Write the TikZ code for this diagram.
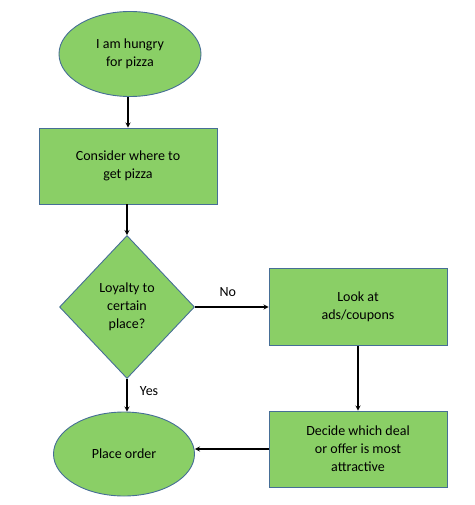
\documentclass[tikz,border=0pt]{standalone}
\usepackage{fontspec}
\setmainfont{Carlito}
\usetikzlibrary{shapes.geometric}

\definecolor{boxgreen}{RGB}{138,207,102}
\definecolor{boxline}{RGB}{70,110,150}

\tikzset{
    shapebox/.style={draw=boxline, fill=boxgreen, line width=0.9pt,
        align=center, font=\fontsize{14}{18}\selectfont, inner sep=0pt},
    flowline/.style={line width=1.2pt, -stealth},
    labeltext/.style={font=\fontsize{14}{18}\selectfont}
}

\begin{document}
\begin{tikzpicture}[x=1pt, y=-1pt]

    \useasboundingbox (0,0) rectangle (474,505);

    \node[shapebox,
        ellipse,
        minimum width=142pt,
        minimum height=85pt
    ] (hungry) at (130,54){I am hungry\\for pizza};
    \node[shapebox,
        rectangle,
        minimum width=178pt,
        minimum height=76pt
    ] (consider) at (128,166){Consider where to\\get pizza};
    \node[shapebox,
        diamond,
        minimum width=135pt,
        minimum height=143pt
    ] (loyalty) at (127,307){Loyalty to\\certain\\place?};
    \node[shapebox,
        rectangle,
        minimum width=178pt,
        minimum height=77pt
    ] (ads) at (358,307){Look at\\ads/coupons};
    \node[shapebox,
        rectangle,
        minimum width=178pt,
        minimum height=76pt
    ] (decide) at (358,449){Decide which deal\\or offer is most\\attractive};
    \node[shapebox,
        ellipse,
        minimum width=141pt,
        minimum height=84pt
    ] (order) at (124,454){Place order};

    \draw[flowline] (hungry.south -| consider.north) -- (consider.north);
    \draw[flowline] (consider.south -| loyalty.north) -- (loyalty.north);
    \draw[flowline] (loyalty.east) -- (ads.west)
        node[labeltext, midway, above, yshift=6pt, xshift=-4pt]{No};
    \draw[flowline] (loyalty.south) -- (loyalty.south |- order.north)
        node[labeltext, midway, right, xshift=9pt, yshift=4pt]{Yes};
    \draw[flowline] (ads.south) -- (decide.north);
    \draw[flowline] (decide.west) -- (order.east |- decide.west);

\end{tikzpicture}
\end{document}
